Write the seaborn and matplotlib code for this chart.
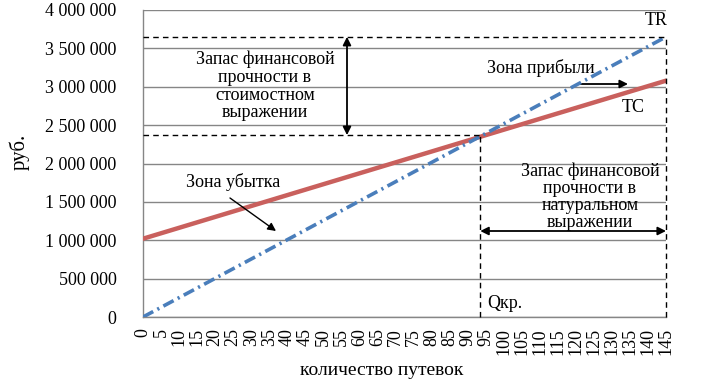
import matplotlib
matplotlib.use('Agg')
import matplotlib.pyplot as plt
import seaborn as sns
import pandas as pd
from matplotlib.ticker import FuncFormatter, MultipleLocator

# ---- data ----
quantity = [0, 5, 10, 15, 20, 25, 30, 35, 40, 45, 50, 55, 60, 65, 70,
            75, 80, 85, 90, 95, 100, 105, 110, 115, 120, 125, 130, 135, 140, 145]
tr_values = [0, 125850, 251700, 377550, 503400, 629250, 755100, 880950, 1006800,
             1132650, 1258500, 1384350, 1510200, 1636050, 1761900, 1887750,
             2013600, 2139450, 2265300, 2391150, 2517000, 2642850, 2768700,
             2894550, 3020400, 3146250, 3272100, 3397950, 3523800, 3649650]
tc_values = [1020000, 1091000, 1162000, 1233000, 1304000, 1375000, 1446000,
             1517000, 1588000, 1659000, 1730000, 1801000, 1872000, 1943000,
             2014000, 2085000, 2156000, 2227000, 2298000, 2369000, 2440000,
             2511000, 2582000, 2653000, 2724000, 2795000, 2866000, 2937000,
             3008000, 3079000]
breakeven_q = 93.5
breakeven_rev = 2370000
max_q = 145
max_rev = 3650000

df = pd.DataFrame({'q': quantity, 'TR': tr_values, 'TC': tc_values})

sns.set_theme(style='white')
plt.rcParams['font.family'] = ['Liberation Serif', 'DejaVu Serif']

fig = plt.figure(figsize=(7.02, 3.88), dpi=100)
ax = fig.add_axes([143/702, 1 - 317/388, 523/702, 307/388])

sns.lineplot(data=df, x='q', y='TC', ax=ax, color='#C9605D', linewidth=3.2, zorder=3)
sns.lineplot(data=df, x='q', y='TR', ax=ax, color='#4A7EBB', linewidth=2.6, zorder=4,
             linestyle=(0, (3.2, 1.3, 0.6, 1.3)))

ax.set_xlim(0, 145)
ax.set_ylim(0, 4000000)
ax.xaxis.set_major_locator(MultipleLocator(5))
ax.yaxis.set_major_locator(MultipleLocator(500000))
ax.yaxis.set_major_formatter(FuncFormatter(lambda v, p: f"{int(v):,}".replace(',', ' ')))
ax.yaxis.grid(True, color='#868686', linewidth=1)
ax.xaxis.grid(False)
ax.set_axisbelow(True)
for s in ['top', 'right']:
    ax.spines[s].set_visible(False)
for s in ['left', 'bottom']:
    ax.spines[s].set_color('#868686')
    ax.spines[s].set_linewidth(1)
ax.tick_params(axis='both', direction='out', length=5, width=1, color='#868686',
               labelsize=13, labelcolor='black')
ax.tick_params(axis='x', labelrotation=90, pad=3)
ax.tick_params(axis='y', pad=14)

ax.set_xlabel('количество путевок', fontsize=14, color='black')
ax.xaxis.set_label_coords((382 - 143) / 523, -(362 - 317) / 307)
ax.set_ylabel('руб.', fontsize=15, color='black')
ax.yaxis.set_label_coords(-(143 - 30) / 523, (317 - 152) / 307)

dash = dict(color='black', linewidth=1, linestyle=(0, (4, 3)), clip_on=False, zorder=5)
ax.plot([0, max_q], [max_rev, max_rev], **dash)
ax.plot([0, breakeven_q], [breakeven_rev, breakeven_rev], **dash)
ax.plot([breakeven_q, breakeven_q], [0, breakeven_rev], **dash)
ax.plot([max_q, max_q], [0, max_rev], **dash)

def px(x, y):
    return ((x - 143) / 523 * 145, (317 - y) / 307 * 4000000)

arr = dict(arrowstyle='<|-|>', color='black', lw=1.3, mutation_scale=12,
           shrinkA=0, shrinkB=0)
ax.annotate('', xy=(px(347, 0)[0], max_rev), xytext=(px(347, 0)[0], breakeven_rev),
            arrowprops=arr, annotation_clip=False)
ax.annotate('', xy=(breakeven_q, px(0, 231)[1]), xytext=(max_q, px(0, 231)[1]),
            arrowprops=arr, annotation_clip=False)
ax.annotate('', xy=px(628, 84), xytext=px(580, 84),
            arrowprops=dict(arrowstyle='-|>', color='black', lw=1.3, mutation_scale=12,
                            shrinkA=0, shrinkB=0), annotation_clip=False)
ax.annotate('', xy=px(276, 231), xytext=px(230, 198),
            arrowprops=dict(arrowstyle='-|>', color='black', lw=1.0, mutation_scale=12,
                            shrinkA=0, shrinkB=0), annotation_clip=False)

tk = dict(fontsize=13, color='black', ha='center', va='center', zorder=6)
ax.text(*px(265, 86), 'Запас финансовой\nпрочности в\nстоимостном\nвыражении',
        linespacing=1.05, **tk)
ax.text(*px(590, 197), 'Запас финансовой\nпрочности в\nнатуральном\nвыражении',
        linespacing=1.0, **tk)
ax.text(*px(541, 68), 'Зона прибыли', **tk)
ax.text(*px(233, 182), 'Зона убытка', **tk)
ax.text(*px(656, 20), 'TR', **tk)
ax.text(*px(633, 107), 'TC', **tk)
ax.text(*px(505, 303), 'Qкр.', **tk)

fig.savefig('out.png', dpi=100)
